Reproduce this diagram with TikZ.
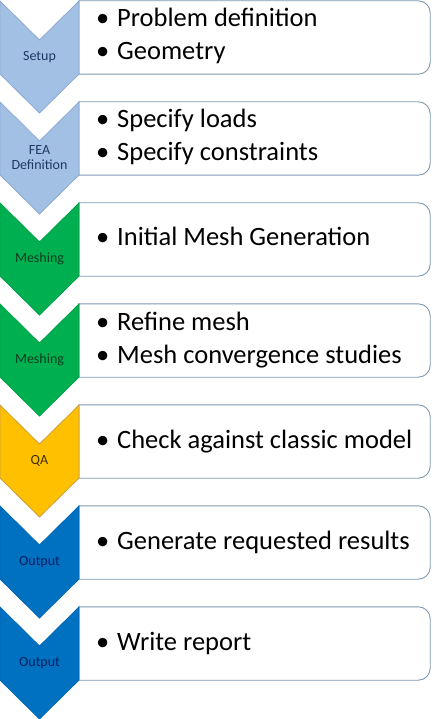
\documentclass[tikz,border=0pt]{standalone}
\usepackage{fontspec}
\setmainfont{Carlito}
\definecolor{lblue}{HTML}{A2C0E4}
\definecolor{lblueD}{HTML}{8DAAD2}
\definecolor{mgreen}{HTML}{00B050}
\definecolor{mgreenD}{HTML}{00A048}
\definecolor{qagold}{HTML}{FFC000}
\definecolor{qagoldD}{HTML}{C8A040}
\definecolor{oblue}{HTML}{0070C0}
\definecolor{oblueD}{HTML}{0068B4}
\definecolor{boxc}{HTML}{7F9AB2}
\definecolor{navytxt}{HTML}{1F3864}
\definecolor{greentxt}{HTML}{0B3D1F}
\definecolor{qatxt}{HTML}{3F3000}
\definecolor{outtxt}{HTML}{002060}
\newcommand\bul{\makebox[21pt][l]{•}}
\tikzset{
  chev/.style={line width=0.8pt},
  boxn/.style={draw=none, minimum width=351pt, minimum height=73pt, inner sep=0pt},
  boxline/.style={draw=boxc, line width=0.9pt, fill=white},
  bl/.style={anchor=base west, font=\fontsize{26.5}{30}\selectfont, inner sep=0pt},
  lab/.style={font=\fontsize{14}{15}\selectfont, align=center, inner sep=0pt},
}
\begin{document}
\begin{tikzpicture}[x=1pt,y=1pt]
\useasboundingbox (0,0) rectangle (433,-719);
% ---- row 1
\begin{scope}[yshift=-1pt]
\node[boxn] (box1) at (254.5,-36.5) {};
\draw[boxline] (box1.north west) -- ([xshift=-12pt]box1.north east) arc[start angle=90,end angle=0,radius=12pt] -- ([yshift=12pt]box1.south east) arc[start angle=0,end angle=-90,radius=12pt] -- (box1.south west) -- cycle;
\draw[chev, fill=lblue, draw=lblueD] (0,0) -- (39.5,-39) -- (79,0) -- (79,-73) -- (39.5,-112) -- (0,-73) -- cycle;
\node[lab, text=navytxt] (lab1) at (39.5,-56) {Setup};
\node[bl] (t1a) at (96,-26) {\bul Problem definition};
\node[bl] (t1b) at (96,-59) {\bul Geometry};
\end{scope}
% ---- row 2
\begin{scope}[yshift=-102pt]
\node[boxn] (box2) at (254.5,-36.5) {};
\draw[boxline] (box2.north west) -- ([xshift=-12pt]box2.north east) arc[start angle=90,end angle=0,radius=12pt] -- ([yshift=12pt]box2.south east) arc[start angle=0,end angle=-90,radius=12pt] -- (box2.south west) -- cycle;
\draw[chev, fill=lblue, draw=lblueD] (0,0) -- (39.5,-39) -- (79,0) -- (79,-73) -- (39.5,-112) -- (0,-73) -- cycle;
\node[lab, text=navytxt] (lab2) at (39.5,-56) {FEA\\Definition};
\node[bl] (t2a) at (96,-26) {\bul Specify loads};
\node[bl] (t2b) at (96,-59) {\bul Specify constraints};
\end{scope}
% ---- row 3
\begin{scope}[yshift=-203pt]
\node[boxn] (box3) at (254.5,-36.5) {};
\draw[boxline] (box3.north west) -- ([xshift=-12pt]box3.north east) arc[start angle=90,end angle=0,radius=12pt] -- ([yshift=12pt]box3.south east) arc[start angle=0,end angle=-90,radius=12pt] -- (box3.south west) -- cycle;
\draw[chev, fill=mgreen, draw=mgreenD] (0,0) -- (39.5,-39) -- (79,0) -- (79,-73) -- (39.5,-112) -- (0,-73) -- cycle;
\node[lab, text=greentxt] (lab3) at (39.5,-56) {Meshing};
\node[bl] (t3a) at (96,-42) {\bul Initial Mesh Generation};
\end{scope}
% ---- row 4
\begin{scope}[yshift=-304pt]
\node[boxn] (box4) at (254.5,-36.5) {};
\draw[boxline] (box4.north west) -- ([xshift=-12pt]box4.north east) arc[start angle=90,end angle=0,radius=12pt] -- ([yshift=12pt]box4.south east) arc[start angle=0,end angle=-90,radius=12pt] -- (box4.south west) -- cycle;
\draw[chev, fill=mgreen, draw=mgreenD] (0,0) -- (39.5,-39) -- (79,0) -- (79,-73) -- (39.5,-112) -- (0,-73) -- cycle;
\node[lab, text=greentxt] (lab4) at (39.5,-56) {Meshing};
\node[bl] (t4a) at (96,-26) {\bul Refine mesh};
\node[bl] (t4b) at (96,-59) {\bul Mesh convergence studies};
\end{scope}
% ---- row 5
\begin{scope}[yshift=-405pt]
\node[boxn] (box5) at (254.5,-36.5) {};
\draw[boxline] (box5.north west) -- ([xshift=-12pt]box5.north east) arc[start angle=90,end angle=0,radius=12pt] -- ([yshift=12pt]box5.south east) arc[start angle=0,end angle=-90,radius=12pt] -- (box5.south west) -- cycle;
\draw[chev, fill=qagold, draw=qagoldD] (0,0) -- (39.5,-39) -- (79,0) -- (79,-73) -- (39.5,-112) -- (0,-73) -- cycle;
\node[lab, text=qatxt] (lab5) at (39.5,-56) {QA};
\node[bl] (t5a) at (96,-43) {\bul Check against classic model};
\end{scope}
% ---- row 6
\begin{scope}[yshift=-506pt]
\node[boxn] (box6) at (254.5,-36.5) {};
\draw[boxline] (box6.north west) -- ([xshift=-12pt]box6.north east) arc[start angle=90,end angle=0,radius=12pt] -- ([yshift=12pt]box6.south east) arc[start angle=0,end angle=-90,radius=12pt] -- (box6.south west) -- cycle;
\draw[chev, fill=oblue, draw=oblueD] (0,0) -- (39.5,-39) -- (79,0) -- (79,-73) -- (39.5,-112) -- (0,-73) -- cycle;
\node[lab, text=outtxt] (lab6) at (39.5,-56) {Output};
\node[bl] (t6a) at (96,-43) {\bul Generate requested results};
\end{scope}
% ---- row 7
\begin{scope}[yshift=-607pt]
\node[boxn] (box7) at (254.5,-36.5) {};
\draw[boxline] (box7.north west) -- ([xshift=-12pt]box7.north east) arc[start angle=90,end angle=0,radius=12pt] -- ([yshift=12pt]box7.south east) arc[start angle=0,end angle=-90,radius=12pt] -- (box7.south west) -- cycle;
\draw[chev, fill=oblue, draw=oblueD] (0,0) -- (39.5,-39) -- (79,0) -- (79,-73) -- (39.5,-112) -- (0,-73) -- cycle;
\node[lab, text=outtxt] (lab7) at (39.5,-56) {Output};
\node[bl] (t7a) at (96,-43) {\bul Write report};
\end{scope}
\end{tikzpicture}
\end{document}
